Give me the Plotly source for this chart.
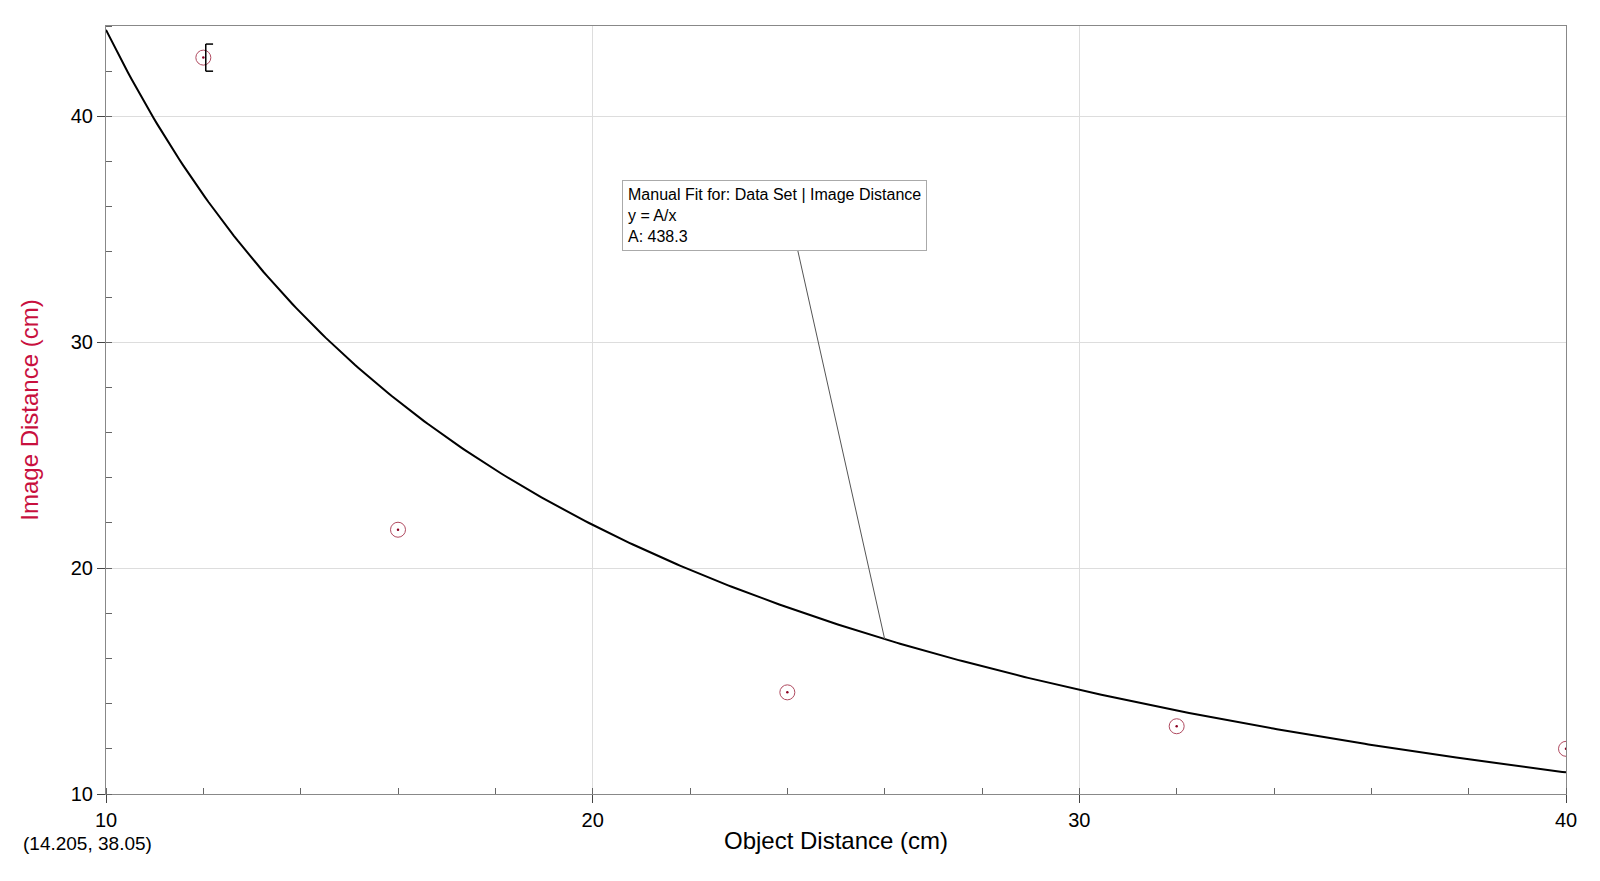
import numpy as np
import plotly.graph_objects as go

obj_dist = [12, 16, 24, 32, 40]
img_dist = [42.6, 21.7, 14.5, 13.0, 12.0]
fit_A = 438.3
x_range = [10, 40]
y_range = [10, 44]

xf = np.linspace(10, 40, 400)
yf = fit_A / xf

fig = go.Figure()
fig.add_trace(go.Scatter(x=xf, y=yf, mode="lines", line=dict(color="black", width=2), hoverinfo="skip"))
fig.add_trace(go.Scatter(x=obj_dist, y=img_dist, mode="markers",
                         marker=dict(symbol="circle-open", size=15, color="#b04a60", line=dict(width=1))))
fig.add_trace(go.Scatter(x=obj_dist, y=img_dist, mode="markers",
                         marker=dict(symbol="circle", size=2.5, color="#8b0022")))

for xb, yb in [(12, 42.6), (40, 12.0)]:
    fig.add_shape(type="line", x0=xb + 0.05, x1=xb + 0.05, y0=yb - 0.6, y1=yb + 0.6, line=dict(color="black", width=1.5))
    fig.add_shape(type="line", x0=xb + 0.05, x1=xb + 0.2, y0=yb - 0.6, y1=yb - 0.6, line=dict(color="black", width=1.5))
    fig.add_shape(type="line", x0=xb + 0.05, x1=xb + 0.2, y0=yb + 0.6, y1=yb + 0.6, line=dict(color="black", width=1.5))

fig.add_shape(type="line", x0=24.2, y0=34.2, x1=26.0, y1=fit_A / 26.0, line=dict(color="#555", width=1))

fig.add_annotation(x=20.6, y=35.6, xanchor="left", yanchor="middle",
                   text="<br>Manual Fit for: Data Set | Image Distance<br>y = A/x<br>A: 438.3",
                   showarrow=False, align="left", bgcolor="white", bordercolor="#aaa", borderwidth=1,
                   borderpad=5, font=dict(family="Arial", size=16, color="black"))
fig.add_annotation(xref="paper", yref="paper", x=-0.058, y=-0.048, xanchor="left", yanchor="top",
                   text="(14.205, 38.05)", showarrow=False, font=dict(family="Arial", size=19, color="black"))

fig.update_layout(
    width=1600, height=881, plot_bgcolor="white", paper_bgcolor="white", showlegend=False,
    margin=dict(l=98, r=42, t=18, b=95),
    font=dict(family="Arial", size=20, color="black"),
    xaxis=dict(range=x_range, dtick=10, showgrid=True, gridcolor="#dddddd", ticks="outside", ticklen=8,
               minor=dict(dtick=2, ticks="inside", ticklen=6, tickcolor="#666"),
               linecolor="#888", mirror=True, zeroline=False,
               title=dict(text="Object Distance (cm)", standoff=2)),
    yaxis=dict(range=y_range, dtick=10, tick0=0, showgrid=True, gridcolor="#dddddd", ticks="outside", ticklen=8,
               minor=dict(dtick=2, ticks="inside", ticklen=6, tickcolor="#666"),
               linecolor="#888", mirror=True, zeroline=False,
               title=dict(text="Image Distance (cm)", font=dict(color="#c8103e"), standoff=25)),
)
fig.write_html("out.html")
